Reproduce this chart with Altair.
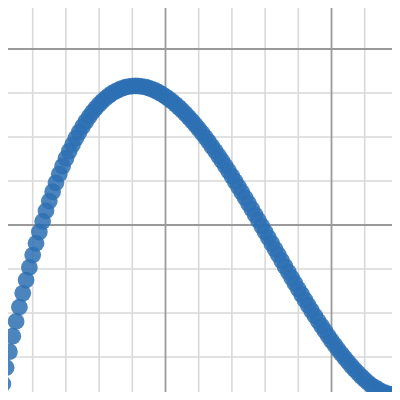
import altair as alt
import pandas as pd

# sample positions (x) and values (y)
x_values = [
    0.00, 0.02, 0.04, 0.06, 0.08, 0.10, 0.12, 0.14, 0.16, 0.18,
    0.20, 0.22, 0.24, 0.26, 0.28, 0.30, 0.32, 0.34, 0.36, 0.38,
    0.40, 0.42, 0.44, 0.46, 0.48, 0.50, 0.52, 0.54, 0.56, 0.58,
    0.60, 0.62, 0.64, 0.66, 0.68, 0.70, 0.72, 0.74, 0.76, 0.78,
    0.80, 0.82, 0.84, 0.86, 0.88, 0.90, 0.92, 0.94, 0.96, 0.98,
    1.00, 1.02, 1.04, 1.06, 1.08, 1.10, 1.12, 1.14, 1.16, 1.18,
    1.20, 1.22, 1.24, 1.26, 1.28, 1.30, 1.32, 1.34, 1.36, 1.38,
    1.40, 1.42, 1.44, 1.46, 1.48, 1.50, 1.52, 1.54, 1.56, 1.58,
    1.60, 1.62, 1.64, 1.66, 1.68, 1.70, 1.72, 1.74, 1.76, 1.78,
    1.80, 1.82, 1.84, 1.86, 1.88, 1.90, 1.92, 1.94, 1.96, 1.98,
    2.00, 2.02, 2.04, 2.06, 2.08, 2.10, 2.12, 2.14, 2.16, 2.18,
    2.20, 2.22, 2.24, 2.26, 2.28, 2.30, 2.32, 2.34, 2.36, 2.38,
    2.40, 2.42,
]
y_values = [
    0.000, 0.097, 0.190, 0.280, 0.368, 0.452, 0.533, 0.612, 0.687, 0.759,
    0.829, 0.896, 0.960, 1.021, 1.080, 1.136, 1.189, 1.240, 1.289, 1.334,
    1.378, 1.419, 1.457, 1.493, 1.527, 1.559, 1.588, 1.616, 1.641, 1.664,
    1.685, 1.704, 1.721, 1.736, 1.749, 1.760, 1.769, 1.777, 1.783, 1.787,
    1.789, 1.790, 1.789, 1.787, 1.783, 1.778, 1.771, 1.763, 1.753, 1.742,
    1.730, 1.717, 1.702, 1.686, 1.669, 1.651, 1.632, 1.612, 1.591, 1.569,
    1.546, 1.522, 1.498, 1.473, 1.446, 1.420, 1.392, 1.364, 1.336, 1.306,
    1.277, 1.247, 1.216, 1.185, 1.154, 1.122, 1.090, 1.058, 1.026, 0.993,
    0.960, 0.928, 0.895, 0.862, 0.830, 0.797, 0.764, 0.732, 0.700, 0.668,
    0.636, 0.605, 0.574, 0.543, 0.513, 0.484, 0.454, 0.426, 0.398, 0.370,
    0.343, 0.317, 0.292, 0.268, 0.244, 0.221, 0.199, 0.178, 0.158, 0.139,
    0.121, 0.104, 0.089, 0.078, 0.066, 0.055, 0.047, 0.041, 0.037, 0.034,
    0.032, 0.031,
]

# grid line positions
minor_x = [0.2, 0.4, 0.6, 0.8, 1.2, 1.4, 1.6, 1.8, 2.2]
major_x = [1, 2]
minor_y = [0.25, 0.5, 0.75, 1.25, 1.5, 1.75]
major_y = [1, 2]
axis_y = [0]

pts = pd.DataFrame({"x": x_values, "y": y_values})

xs = alt.Scale(domain=[0.0512, 2.3645], nice=False, zero=False)
ys = alt.Scale(domain=[0.0511, 2.233], nice=False, zero=False)

minor_v = alt.Chart(pd.DataFrame({"v": minor_x})).mark_rule(
    color="#d9d9d9", strokeWidth=1.6
).encode(x=alt.X("v:Q", scale=xs, axis=None))
minor_h = alt.Chart(pd.DataFrame({"v": minor_y})).mark_rule(
    color="#d9d9d9", strokeWidth=1.6
).encode(y=alt.Y("v:Q", scale=ys, axis=None))
major_v = alt.Chart(pd.DataFrame({"v": major_x})).mark_rule(
    color="#9a9a9a", strokeWidth=1.8
).encode(x=alt.X("v:Q", scale=xs, axis=None))
major_h = alt.Chart(pd.DataFrame({"v": major_y})).mark_rule(
    color="#9a9a9a", strokeWidth=1.8
).encode(y=alt.Y("v:Q", scale=ys, axis=None))
x_axis = alt.Chart(pd.DataFrame({"v": axis_y})).mark_rule(
    color="#000000", strokeWidth=6, clip=True
).encode(y=alt.Y("v:Q", scale=ys, axis=None))

points = alt.Chart(pts).mark_circle(
    size=280, color="#2d70b3", opacity=0.85, clip=True
).encode(
    x=alt.X("x:Q", scale=xs, axis=None),
    y=alt.Y("y:Q", scale=ys, axis=None),
)

chart = alt.layer(minor_v, minor_h, major_v, major_h, x_axis, points).properties(
    width=384,
    height=384,
    padding=0,
    autosize=alt.AutoSizeParams(type="none"),
    background="white",
).configure_view(stroke=None)

chart.save("out.html", embed_options={"renderer": "svg", "actions": False})
